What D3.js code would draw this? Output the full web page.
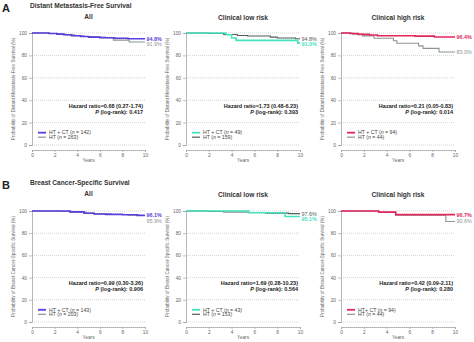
<!DOCTYPE html>
<html><head><meta charset="utf-8">
<script src="https://cdn.jsdelivr.net/npm/d3@7"></script>
<style>body{margin:0;background:#fff}svg{display:block}text{font-family:"Liberation Sans",Arial,sans-serif}</style>
</head><body>
<svg id="c" width="474" height="342"></svg>
<script>
const xTicks = [0,2,4,6,8,10];
const yTicks = [0,20,40,60,80,100];
const rowTitles = ["Distant Metastasis-Free Survival","Breast Cancer-Specific Survival"];
const rowLetters = ["A","B"];
const yLabels = ["Probability of Distant Metastasis-Free Survival (%)","Probability of Breast Cancer-Specific Survival (%)"];
const colTitles = ["All","Clinical low risk","Clinical high risk"];
const ctColors = ["#5a3ddc","#45e3bf","#e3265c"];
const htColors = ["#8a9694","#555b5a","#8a9694"];

// Kaplan-Meier step points [years, survival %]
const dmfsAllCT = [[0,100],[1.5,99.5],[2.2,99],[2.8,98.4],[3.5,97.6],[4.3,96.9],[5.0,96.3],[6.0,95.8],[7.3,95.3],[8.5,94.8],[10,94.8]];
const dmfsAllHT = [[0,100],[1.6,99.5],[2.3,99],[3.0,98.3],[3.8,97.5],[4.6,96.9],[5.5,96.4],[6.5,95.9],[7.2,93.6],[8.6,91.9],[10,91.9]];
const dmfsLowCT = [[0,100],[3.5,98.5],[4.0,95.5],[4.4,93.4],[9.8,91.0],[10,91.0]];
const dmfsLowHT = [[0,100],[2.0,99.5],[3.3,98.6],[4.5,97.8],[5.4,97.3],[7.4,96.3],[8.0,95.5],[9.6,94.8],[10,94.8]];
const dmfsHighCT = [[0,100],[0.8,99.5],[1.5,98.8],[2.5,98.2],[3.2,97.6],[6.5,97.2],[8.2,96.4],[10,96.4]];
const dmfsHighHT = [[0,100],[1.0,99.0],[1.9,97.4],[2.9,95.3],[4.6,93.1],[4.9,90.8],[6.8,88.5],[7.2,86.3],[8.6,83.0],[10,83.0]];
const bcssAllCT = [[0,100],[3.4,99.2],[4.6,98.0],[5.5,97.3],[6.5,97.0],[8.0,96.6],[9.3,96.1],[10,96.1]];
const bcssAllHT = [[0,100],[2.5,99.6],[3.3,99.0],[4.8,98.2],[5.5,97.4],[7.0,96.8],[8.5,96.3],[9.5,95.9],[10,95.9]];
const bcssLowCT = [[0,100],[5.5,98.4],[8.7,95.1],[10,95.1]];
const bcssLowHT = [[0,100],[2.0,99.6],[3.3,99.1],[5.5,98.6],[7.0,98.1],[9.0,97.6],[10,97.6]];
const bcssHighCT = [[0,100],[3.3,99.0],[4.8,96.7],[10,96.7]];
const bcssHighHT = [[0,100],[3.3,98.8],[4.8,96.2],[9.2,90.6],[10,90.6]];

const endCT = [["94.8%","91.0%","96.4%"],["96.1%","95.1%","96.7%"]];
const endHT = [["91.9%","94.8%","83.0%"],["95.9%","97.6%","90.6%"]];
const nCT = [[142,49,94],[143,43,94]];
const nHT = [[263,159,44],[203,153,44]];
const hazard = [["Hazard ratio=0.68 (0.27-1.74)","Hazard ratio=1.73 (0.48-6.23)","Hazard ratio=0.21 (0.05-0.83)"],
                ["Hazard ratio=0.99 (0.30-3.26)","Hazard ratio=1.69 (0.28-10.23)","Hazard ratio=0.42 (0.09-2.11)"]];
const pvals = [["0.417","0.393","0.014"],["0.906","0.564","0.280"]];
const ctLegendLabel = [["HT + CT","HT + CT","HT + CT"],["HT + CT","HT + CT","HT+ CT"]];

const curvesCT = [[dmfsAllCT,dmfsLowCT,dmfsHighCT],[bcssAllCT,bcssLowCT,bcssHighCT]];
const curvesHT = [[dmfsAllHT,dmfsLowHT,dmfsHighHT],[bcssAllHT,bcssLowHT,bcssHighHT]];

const svg = d3.select("#c");
const colX = [[32,145],[186,300],[341,455]];
const rowY = [[33,145],[211,322]];
const rowTitleY = [8,185];
const colTitleY = [[19,20,20],[196,197,197]];

rowLetters.forEach((L,r)=>{
  svg.append("text").attr("x",2).attr("y",rowTitleY[r]+4).attr("font-size",11).attr("font-weight","bold").attr("fill","#222").text(L);
  svg.append("text").attr("x",30).attr("y",rowTitleY[r]).attr("font-size",6.6).attr("font-weight","bold").attr("fill","#333").text(rowTitles[r]);
});

for(let r=0;r<2;r++){
  for(let c=0;c<3;c++){
    const [x0,x1] = colX[c];
    const [yt,yb] = rowY[r];
    const x = d3.scaleLinear().domain([0,10]).range([x0,x1]);
    const y = d3.scaleLinear().domain([0,100]).range([yb,yt]);
    const g = svg.append("g");
    g.append("text").attr("x",(x0+x1)/2).attr("y",colTitleY[r][c]).attr("text-anchor","middle")
      .attr("font-size",6.6).attr("font-weight","bold").attr("fill","#333").text(colTitles[c]);
    // grid
    g.selectAll(".gl").data(yTicks).join("line")
      .attr("x1",x0).attr("x2",x1).attr("y1",d=>y(d)).attr("y2",d=>y(d))
      .attr("stroke","#c8c8c8").attr("stroke-width",0.8).attr("stroke-dasharray","1,1");
    // y axis
    const ya = d3.axisLeft(y).tickValues(yTicks).tickSize(3).tickPadding(2);
    const yg = g.append("g").attr("transform",`translate(${x0},0)`).call(ya);
    yg.select(".domain").attr("stroke","#999").attr("stroke-width",0.7);
    yg.selectAll(".tick line").attr("stroke","#999").attr("stroke-width",0.6);
    yg.selectAll("text").attr("font-size",4.8).attr("fill","#666").attr("font-family","Liberation Sans, Arial, sans-serif");
    // x axis
    const xa = d3.axisBottom(x).tickValues(xTicks).tickSize(2).tickPadding(1.5);
    const xg = g.append("g").attr("transform",`translate(0,${yb+5})`).call(xa);
    xg.select(".domain").attr("stroke","#999").attr("stroke-width",0.7);
    xg.selectAll(".tick line").attr("stroke","#999").attr("stroke-width",0.6);
    xg.selectAll("text").attr("font-size",4.8).attr("fill","#666").attr("font-family","Liberation Sans, Arial, sans-serif");
    g.append("text").attr("x",(x0+x1)/2).attr("y",yb+17).attr("text-anchor","middle").attr("font-size",4.8).attr("fill","#666").text("Years");
    // y label
    g.append("text").attr("transform",`translate(${x0-17},${(yt+yb)/2}) rotate(-90)`).attr("text-anchor","middle")
      .attr("font-size",4.6).attr("fill","#666").text(yLabels[r]);
    // curves
    const line = d3.line().curve(d3.curveStepAfter).x(d=>x(d[0])).y(d=>y(d[1]));
    g.append("path").datum(curvesHT[r][c]).attr("d",line).attr("fill","none").attr("stroke",htColors[c]).attr("stroke-width",1.1);
    g.append("path").datum(curvesCT[r][c]).attr("d",line).attr("fill","none").attr("stroke",ctColors[c]).attr("stroke-width",1.6);
    // end labels
    const ctEnd = curvesCT[r][c][curvesCT[r][c].length-1][1];
    const htEnd = curvesHT[r][c][curvesHT[r][c].length-1][1];
    let yCT = y(ctEnd), yHT = y(htEnd);
    if(Math.abs(yCT-yHT)<5.5){ if(yCT<=yHT){ yHT = yCT+5.5; } else { yCT = yHT+5.5; } }
    g.append("text").attr("x",x1+1.5).attr("y",yCT+2).attr("font-size",5.4).attr("font-weight","bold").attr("fill",ctColors[c]).text(endCT[r][c]);
    g.append("text").attr("x",x1+1.5).attr("y",yHT+2).attr("font-size",5.4).attr("fill",htColors[c]).text(endHT[r][c]);
    // hazard text
    g.append("text").attr("x",x1-2).attr("y",y(40)+7.5).attr("text-anchor","end").attr("font-size",5.5).attr("font-weight","bold").attr("fill","#222").text(hazard[r][c]);
    const pt = g.append("text").attr("x",x1-2).attr("y",y(40)+13.5).attr("text-anchor","end").attr("font-size",5.5).attr("font-weight","bold").attr("fill","#222");
    pt.append("tspan").attr("font-style","italic").text("P");
    pt.append("tspan").text(" (log-rank): "+pvals[r][c]);
    // legend
    const ly = y(11);
    g.append("line").attr("x1",x0+6).attr("x2",x0+14).attr("y1",ly).attr("y2",ly).attr("stroke",ctColors[c]).attr("stroke-width",1.8);
    g.append("line").attr("x1",x0+6).attr("x2",x0+14).attr("y1",ly+4.5).attr("y2",ly+4.5).attr("stroke",htColors[c]).attr("stroke-width",1.2);
    const t1 = g.append("text").attr("x",x0+17).attr("y",ly+1.8).attr("font-size",5.2).attr("fill","#444");
    t1.append("tspan").text(ctLegendLabel[r][c]+" (");
    t1.append("tspan").attr("font-style","italic").text("n");
    t1.append("tspan").text(" = "+nCT[r][c]+")");
    const t2 = g.append("text").attr("x",x0+17).attr("y",ly+6.3).attr("font-size",5.2).attr("fill","#444");
    t2.append("tspan").text("HT (");
    t2.append("tspan").attr("font-style","italic").text("n");
    t2.append("tspan").text(" = "+nHT[r][c]+")");
  }
}
</script>
</body></html>
